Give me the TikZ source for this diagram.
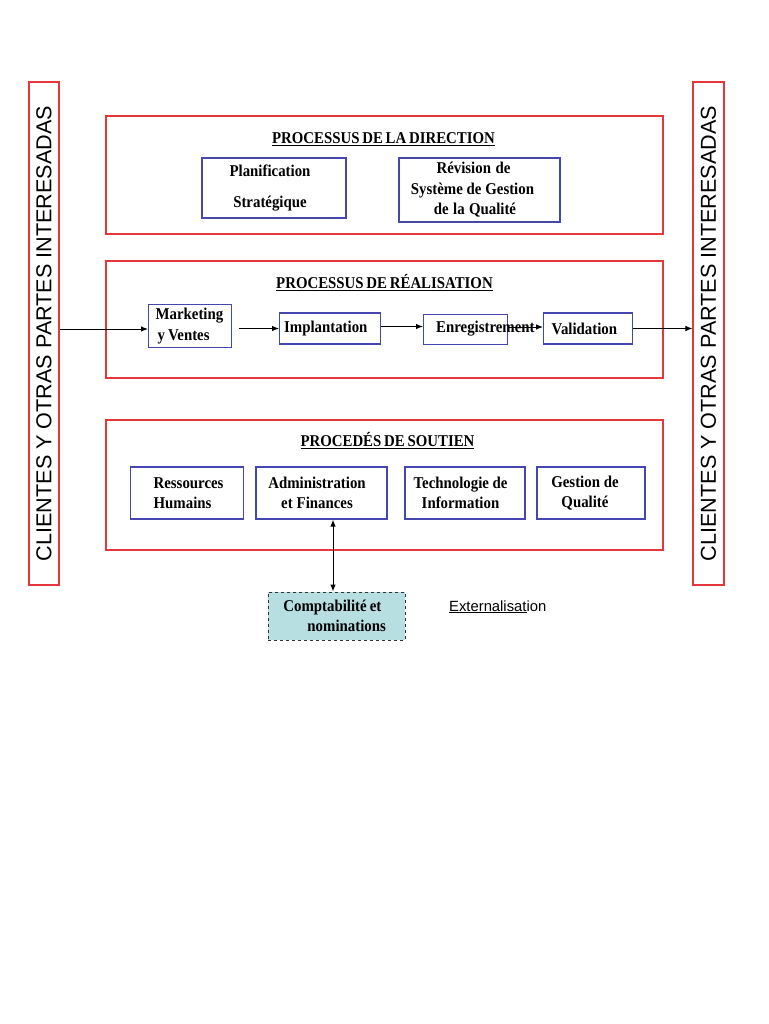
\documentclass[tikz,border=0pt]{standalone}
\usepackage{fontspec}
\setmainfont{Liberation Serif}
\newfontfamily\tnr[FakeStretch=0.9,WordSpace=0.75]{Liberation Serif}
\newfontfamily\arial{Liberation Sans}
\usetikzlibrary{arrows.meta}
\definecolor{redb}{RGB}{228,55,60}
\definecolor{blueb}{RGB}{70,70,175}
\definecolor{tealf}{RGB}{183,222,224}
\newcommand{\tsp}{\spaceskip=3pt plus 1pt\relax}
\begin{document}
\begin{tikzpicture}[x=1pt,y=-1pt,
  grp/.style={draw=redb,line width=1.1pt,rectangle,inner sep=0pt,minimum width=557pt},
  side/.style={draw=redb,line width=1.1pt,rectangle,inner sep=0pt,rotate=90,
    minimum width=503pt,font=\arial\fontsize{21.6}{24}\selectfont},
  ttl/.style={anchor=base,inner sep=0pt,font=\tnr\bfseries\fontsize{16.5}{20}\selectfont},
  pbox/.style={draw=blueb,line width=1.3pt,rectangle,inner ysep=0pt,
    font=\tnr\bfseries\fontsize{16.5}{20.5}\selectfont},
  arr/.style={-{Latex[length=7pt,width=5.5pt]},line width=1pt,black},
  darr/.style={{Latex[length=7pt,width=5.5pt]}-{Latex[length=7pt,width=5.5pt]},line width=1pt,black}]
\useasboundingbox[fill=white] (0,0) rectangle (768,1024);

% side bars
\node[side,minimum height=30pt] (cl) at (44,333.5) {CLIENTES Y OTRAS PARTES INTERESADAS};
\node[side,minimum height=31pt] (cr) at (708.5,333.5) {CLIENTES Y OTRAS PARTES INTERESADAS};

% group boxes
\node[grp,minimum height=118pt] (g1) at (384.5,175) {};
\node[grp,minimum height=117pt] (g2) at (384.5,319.5) {};
\node[grp,minimum height=130pt] (g3) at (384.5,485) {};

\node[ttl] (t1) at (383.5,143.5) {\underline{PROCESSUS DE LA DIRECTION}};
\node[ttl] (t2) at (384.5,288.5) {\underline{PROCESSUS DE RÉALISATION}};
\node[ttl] (t3) at (387.5,446.5) {\underline{PROCEDÉS DE SOUTIEN}};

% direction
\node[pbox,inner xsep=0pt,text width=144pt,align=center,minimum height=60pt] (plan) at (274,188)
  {\tsp\hspace*{-8pt}Planification\\[11pt]\hspace*{-8pt}Stratégique};
\node[pbox,inner xsep=0pt,text width=161pt,align=center,minimum height=64pt] (rev) at (479.5,190)
  {\tsp\hspace*{-12pt}Révision de\\\hspace*{-14pt}Système de Gestion\\\hspace*{-9pt}de la Qualité};

% realisation
\node[pbox,anchor=west,inner xsep=7pt,text width=69pt,align=left,minimum height=43pt] (mkt) at (148,326)
  {\tsp Marketing\\\hspace*{2pt}y Ventes};
\node[pbox,anchor=west,inner xsep=4.5pt,text width=92pt,align=left,minimum height=31pt] (impl) at (279,328.5)
  {Implantation};
\node[pbox,anchor=west,inner xsep=0pt,minimum width=84pt,minimum height=30pt] (enr) at (423,329.5) {};
\node[anchor=west,inner sep=0pt,font=\tnr\bfseries\fontsize{16.5}{20}\selectfont] (enrt) at (436,328.5)
  {Enregistrement};
\node[pbox,anchor=west,inner xsep=8pt,text width=73pt,align=left,minimum height=31pt] (val) at (543,328.5)
  {Validation};

% soutien
\node[pbox,anchor=west,inner xsep=23pt,text width=67pt,align=left,minimum height=52pt] (rh) at (130,493)
  {Ressources\\Humains};
\node[pbox,inner xsep=0pt,text width=131pt,align=center,minimum height=52pt] (adm) at (321.5,493)
  {\tsp\hspace*{-9pt}Administration\\\hspace*{-9pt}et Finances};
\node[pbox,inner xsep=0pt,text width=120pt,align=center,minimum height=52pt] (tech) at (465,493)
  {\tsp\hspace*{-9pt}Technologie de\\\hspace*{-9pt}Information};
\node[pbox,inner xsep=0pt,text width=108pt,align=center,minimum height=52pt] (gq) at (591,493)
  {\tsp\hspace*{-12pt}Gestion de\\\hspace*{-12pt}Qualité};

% external
\node[draw=black!80,dashed,fill=tealf,line width=0.9pt,anchor=west,inner xsep=15pt,inner ysep=0pt,
  text width=107pt,align=left,minimum height=48pt,font=\tnr\bfseries\fontsize{16.5}{20}\selectfont] (comp) at (268,616)
  {\tsp Comptabilité et\\\hspace*{24pt}nominations};
\node[anchor=base west,inner sep=0pt,font=\arial\fontsize{14.8}{17}\selectfont] (ext) at (449,611)
  {\underline{Externalisat}ion};

% connectors
\draw[arr] ([yshift=-3pt]cl.south |- mkt.west) -- ([yshift=-3pt]mkt.west);
\draw[arr] ([xshift=7pt]mkt.east |- impl.west) -- (impl.west);
\draw[arr] ([yshift=2pt]impl.east) -- ([yshift=2pt]enr.west |- impl.east);
\draw[arr] ([yshift=1.5pt]enr.east |- val.west) -- ([yshift=1.5pt]val.west);
\draw[arr] (val.east) -- (val.east -| cr.north);
\draw[darr] ([xshift=11.5pt]adm.south) -- ([xshift=11.5pt]adm.south |- comp.north);
\end{tikzpicture}
\end{document}
